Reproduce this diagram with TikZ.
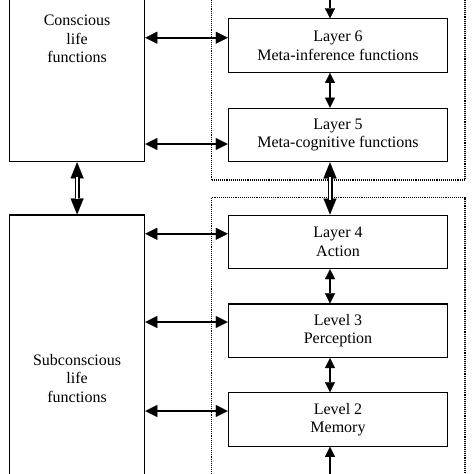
\documentclass[tikz,border=0pt]{standalone}
\usepackage{fontspec}
\setmainfont{Liberation Serif}
\usetikzlibrary{arrows.meta,calc}
\begin{document}
\begin{tikzpicture}[x=1pt,y=-1pt,
  lbl/.style={font=\fontsize{16}{18.5}\selectfont, align=center},
  layerbox/.style={draw, line width=1.1pt, minimum width=219.4pt, minimum height=53.5pt, inner sep=0pt, align=center, font=\fontsize{16}{18.5}\selectfont},
  sidebox/.style={draw, line width=1.1pt, minimum width=135.2pt, inner sep=0pt},
  group/.style={draw, densely dotted, line width=1.1pt},
  harrow/.style={{Triangle[length=12pt,width=12pt,line width=0.1pt]}-{Triangle[length=12pt,width=12pt,line width=0.1pt]}, line width=1.7pt},
  varrow/.style={{Triangle[length=10pt,width=10pt,line width=0.1pt]}-{Triangle[length=10pt,width=10pt,line width=0.1pt]}, line width=1.7pt},
  inarrow/.style={-{Triangle[length=10pt,width=10pt,line width=0.1pt]}, line width=1.7pt},
  dblout/.style={{Triangle[length=16pt,width=13pt,line width=0.1pt]}-{Triangle[length=16pt,width=13pt,line width=0.1pt]}, line width=5pt},
  dblin/.style={draw=white, line width=1.8pt, shorten <=15pt, shorten >=15pt}]
\useasboundingbox (0,0) rectangle (474,474);
\clip (0,0) rectangle (474,474);
\fill[white] (0,0) rectangle (474,474);
% groups
\node[group, minimum width=253.3pt, minimum height=200pt, inner sep=0pt] (gup) at (338.35,80) {};
\node[group, minimum width=253.3pt, minimum height=297.3pt, inner sep=0pt] (glow) at (338.35,346.35) {};
% side boxes
\node[sidebox, minimum height=191.7pt] (cons) at (77.1,65.85) {};
\node[sidebox, minimum height=290pt] (sub) at (77.1,360) {};
\node[lbl] (constxt) at (77.1,38.8) {Conscious\\life\\functions};
\node[lbl] (subtxt) at (77.1,378.5) {Subconscious\\life\\functions};
% layer boxes
\node[layerbox] (l6) at (338,45.65) {Layer 6\\Meta-inference functions};
\node[layerbox] (l5) at (338,135) {Layer 5\\Meta-cognitive functions};
\node[layerbox] (l4) at (338,241.85) {Layer 4\\Action};
\node[layerbox] (l3) at (338,330.7) {Level 3\\Perception};
\node[layerbox] (l2) at (338,419.5) {Level 2\\Memory};
% helper coordinates
\coordinate (ax) at (330,0);
\coordinate (y6) at (0,37.7);
\coordinate (y5) at (0,144);
\coordinate (y4) at (0,233.8);
\coordinate (y3) at (0,322);
\coordinate (y2) at (0,411);
\coordinate (topin) at (330,-5);
\coordinate (botin) at (330,480);
% horizontal arrows
\draw[harrow] (cons.east |- y6) -- (l6.west |- y6);
\draw[harrow] (cons.east |- y5) -- (l5.west |- y5);
\draw[harrow] (sub.east |- y4) -- (l4.west |- y4);
\draw[harrow] (sub.east |- y3) -- (l3.west |- y3);
\draw[harrow] (sub.east |- y2) -- (l2.west |- y2);
% vertical arrows
\draw[inarrow] (topin) -- (l6.north -| ax);
\draw[varrow] (l6.south -| ax) -- (l5.north -| ax);
\draw[varrow] (l4.south -| ax) -- (l3.north -| ax);
\draw[varrow] (l3.south -| ax) -- (l2.north -| ax);
\draw[inarrow] (botin) -- (l2.south -| ax);
% double arrows
\draw[dblout] (cons.south) -- (sub.north);
\draw[dblin] (cons.south) -- (sub.north);
\draw[dblout] (l5.south -| ax) -- (l4.north -| ax);
\draw[dblin] (l5.south -| ax) -- (l4.north -| ax);
\end{tikzpicture}
\end{document}
